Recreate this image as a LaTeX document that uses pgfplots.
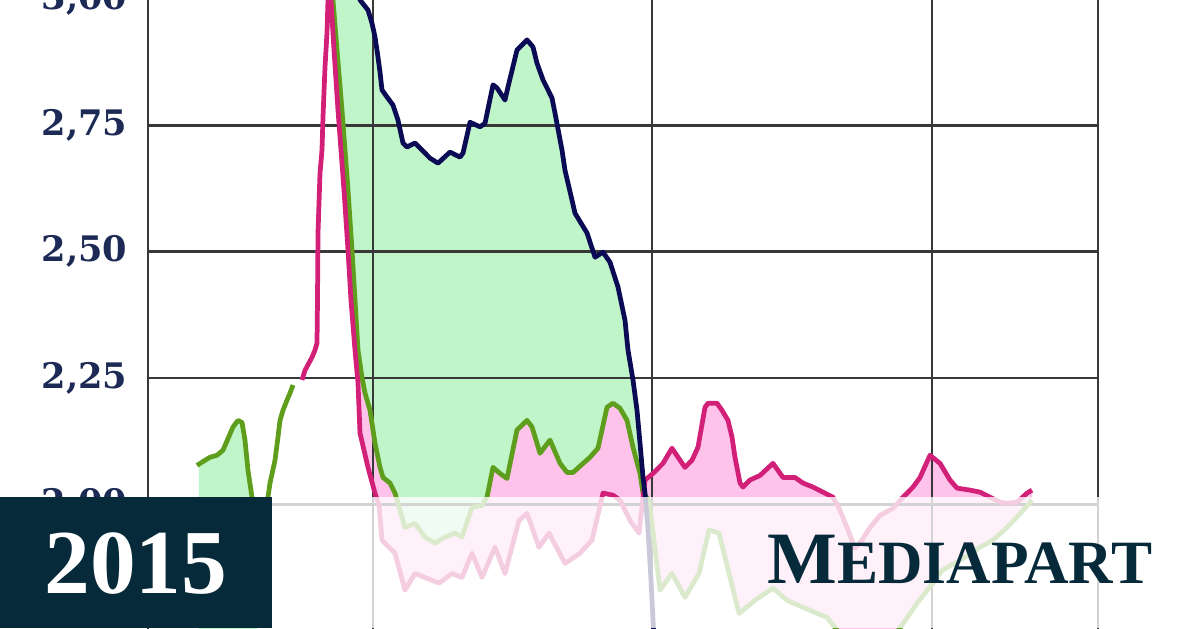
\documentclass[border=0pt]{standalone}
\usepackage{pgfplots}
\pgfplotsset{compat=1.18}
\usepackage{fontspec}
\setmainfont{DejaVu Serif}
\newfontfamily\yearfont{Liberation Serif}
\newfontfamily\logofont{Liberation Serif}
\definecolor{navyline}{HTML}{0B0B55}
\definecolor{greenline}{HTML}{5E9E1C}
\definecolor{magline}{HTML}{D21F78}
\definecolor{greenfill}{HTML}{BFF5C9}
\definecolor{pinkfill}{HTML}{FFC2EA}
\definecolor{gridc}{HTML}{383838}
\definecolor{labc}{HTML}{1C2A55}
\definecolor{bannerc}{HTML}{062A3A}
\begin{document}
\begin{tikzpicture}
\begin{axis}[
  set layers,
  x=0.01cm, y=5.05cm,
  xmin=148, xmax=1098, ymin=1.5, ymax=3.25,
  xtick={373,652,932}, xticklabels={},
  ytick={2,2.25,2.5,2.75,3},
  grid=major,
  major grid style={draw=gridc, line width=0.7pt},
  axis line style={draw=gridc, line width=0.7pt},
  major tick length=0pt,
  yticklabel style={font=\bfseries\fontsize{10}{12}\selectfont, text=labc, anchor=east, inner sep=0pt, xshift=-0.2cm,
    /pgf/number format/fixed, /pgf/number format/fixed zerofill, /pgf/number format/precision=2,
    /pgf/number format/use comma, /pgf/number format/assume math mode=true},
]
% ---- fills (background layer) ----
% green fill, left
\addplot[on layer=axis background, fill=greenfill, draw=none] coordinates {
(199,2.077) (205,2.087) (210,2.093) (217,2.097) (223,2.107) (233,2.153) (238,2.166) (242,2.162)
(245,2.127) (248,2.067) (252,2.014) (257,1.929) (257,1.6) (199,1.6)};
% green fill, between navy and green
\addplot[on layer=axis background, fill=greenfill, draw=none] coordinates {
(326,3.20) (340,3.12) (352,3.05) (360,2.998) (368,2.978) (372,2.952) (375,2.925) (378,2.885) (380,2.855)
(382,2.820) (387,2.806) (393,2.790) (398,2.760) (403,2.715) (407,2.707) (415,2.715) (422,2.701) (430,2.685)
(438,2.675) (450,2.697) (460,2.687) (463,2.695) (470,2.756) (480,2.747) (485,2.754) (493,2.830) (497,2.824)
(505,2.800) (508,2.826) (517,2.899) (527,2.919) (533,2.905) (537,2.873) (543,2.840) (552,2.804) (555,2.774)
(562,2.701) (565,2.661) (572,2.602) (575,2.576) (587,2.537) (595,2.489) (603,2.499) (610,2.479) (618,2.430)
(625,2.364) (628,2.305) (633,2.246) (637,2.186) (640,2.121) (643,2.053) (645,2.022)
(643,2.022) (640,2.061) (633,2.113) (627,2.166) (620,2.190) (613,2.200) (607,2.192) (598,2.111) (590,2.093)
(573,2.063) (567,2.063) (560,2.081) (550,2.127) (540,2.101) (532,2.153) (527,2.166) (517,2.147) (507,2.051)
(500,2.061) (493,2.073) (487,2.014) (482,1.998) (472,1.994) (462,1.935) (455,1.943) (445,1.935) (435,1.923)
(425,1.935) (415,1.962) (405,1.954) (395,2.022) (390,2.042) (383,2.053) (380,2.073) (375,2.121) (370,2.186)
(365,2.220) (362,2.251) (358,2.305) (355,2.404) (352,2.503) (348,2.622) (345,2.701) (342,2.780) (337,2.899)
(333,2.998) (330,3.03)};
% pink fill, between green and magenta (middle)
\addplot[on layer=axis background, fill=pinkfill, draw=none] coordinates {
(329,3.02) (331,2.998) (334,2.899) (338,2.780) (341,2.701) (344,2.622) (348,2.503) (351,2.404) (355,2.305)
(358,2.240) (360,2.141) (368,2.073) (375,2.022) (379,1.998) (382,1.929) (395,1.903) (405,1.830) (415,1.863)
(439,1.844) (452,1.863) (462,1.855) (472,1.903) (482,1.855) (495,1.915) (505,1.863) (519,1.968) (527,1.982)
(539,1.915) (549,1.943) (565,1.883) (580,1.903) (592,1.929) (603,2.022) (613,2.018) (620,2.008) (630,1.968)
(639,1.943) (643,2.022)
(640,2.061) (633,2.113) (627,2.166) (620,2.190) (613,2.200) (607,2.192) (598,2.111) (590,2.093)
(573,2.063) (567,2.063) (560,2.081) (550,2.127) (540,2.101) (532,2.153) (527,2.166) (517,2.147) (507,2.051)
(500,2.061) (493,2.073) (487,2.014) (482,1.998) (472,1.994) (462,1.935) (455,1.943) (445,1.935) (435,1.923)
(425,1.935) (415,1.962) (405,1.954) (395,2.022) (390,2.042) (383,2.053) (380,2.073) (375,2.121) (370,2.186)
(365,2.220) (362,2.251) (358,2.305) (355,2.404) (352,2.503) (348,2.622) (345,2.701) (342,2.780) (337,2.899)
(333,2.998) (330,3.03)};
% pink fill, right
\addplot[on layer=axis background, fill=pinkfill, draw=none] coordinates {
(643,2.022) (645,2.048) (653,2.061) (663,2.081) (672,2.111) (678,2.093) (685,2.073) (692,2.087) (698,2.113)
(705,2.192) (708,2.200) (717,2.200) (722,2.186) (728,2.166) (732,2.133) (735,2.093) (740,2.042) (743,2.034)
(750,2.048) (760,2.057) (773,2.081) (783,2.053) (795,2.053) (803,2.042) (813,2.034) (823,2.024) (833,2.014)
(840,1.988) (848,1.949) (855,1.913) (862,1.929) (870,1.954) (880,1.978) (893,1.992) (903,2.014) (913,2.034)
(920,2.053) (930,2.097) (940,2.081) (950,2.048) (957,2.032) (970,2.028) (980,2.024) (990,2.014) (1000,2.004)
(1007,2.002) (1017,2.004) (1027,2.022) (1032,2.028)
(1032,2.008) (1023,1.988) (1007,1.954) (993,1.929) (980,1.915) (960,1.889) (942,1.869) (933,1.844) (917,1.804)
(900,1.755) (890,1.731) (870,1.716) (845,1.731) (827,1.776) (803,1.796) (787,1.810) (773,1.834) (755,1.810)
(739,1.784) (719,1.943) (709,1.949) (699,1.863) (685,1.816) (672,1.863) (660,1.830) (652,1.962) (649,2.008)};
% ---- lines ----
\addplot[greenline, line width=1.35pt, line join=round] coordinates {
(197,2.077) (205,2.087) (210,2.093) (217,2.097) (223,2.107) (233,2.153) (238,2.166) (242,2.162) (245,2.127)
(248,2.067) (252,2.014) (257,1.929) (262,1.919) (266,1.968) (268,2.014) (270,2.042) (275,2.087) (278,2.133)
(280,2.166) (283,2.186) (287,2.206) (290,2.220) (293,2.236)};
\addplot[greenline, line width=1.35pt, line join=round] coordinates {
(330,3.03) (333,2.998) (337,2.899) (342,2.780) (345,2.701) (348,2.622) (352,2.503) (355,2.404) (358,2.305)
(362,2.251) (365,2.220) (370,2.186) (375,2.121) (380,2.073) (383,2.053) (390,2.042) (395,2.022) (405,1.954)
(415,1.962) (425,1.935) (435,1.923) (445,1.935) (455,1.943) (462,1.935) (472,1.994) (482,1.998) (487,2.014)
(493,2.073) (500,2.061) (507,2.051) (517,2.147) (527,2.166) (532,2.153) (540,2.101) (550,2.127) (560,2.081)
(567,2.063) (573,2.063) (590,2.093) (598,2.111) (607,2.192) (613,2.200) (620,2.190) (627,2.166) (633,2.113)
(640,2.061) (643,2.022) (649,2.008) (652,1.962) (660,1.830) (672,1.863) (685,1.816) (699,1.863) (709,1.949)
(719,1.943) (739,1.784) (755,1.810) (773,1.834) (787,1.810) (803,1.796) (827,1.776) (845,1.731) (870,1.716)
(890,1.731) (900,1.755) (917,1.804) (933,1.844) (942,1.869) (960,1.889) (980,1.915) (993,1.929) (1007,1.954)
(1023,1.988) (1032,2.008)};
\addplot[magline, line width=1.35pt, line join=round] coordinates {
(302,2.246) (305,2.265) (312,2.291) (315,2.305) (317,2.319) (317.5,2.404) (318,2.537) (320,2.655) (322,2.701)
(323,2.766) (325,2.865) (327,2.933) (328,2.998) (329,3.02) (331,2.998) (334,2.899) (338,2.780) (341,2.701)
(344,2.622) (348,2.503) (351,2.404) (355,2.305) (358,2.240) (360,2.141) (368,2.073) (375,2.022) (379,1.998)
(382,1.929) (395,1.903) (405,1.830) (415,1.863) (439,1.844) (452,1.863) (462,1.855) (472,1.903) (482,1.855)
(495,1.915) (505,1.863) (519,1.968) (527,1.982) (539,1.915) (549,1.943) (565,1.883) (580,1.903) (592,1.929)
(603,2.022) (613,2.018) (620,2.008) (630,1.968) (639,1.943) (645,2.048) (653,2.061) (663,2.081) (672,2.111)
(678,2.093) (685,2.073) (692,2.087) (698,2.113) (705,2.192) (708,2.200) (717,2.200) (722,2.186) (728,2.166)
(732,2.133) (735,2.093) (740,2.042) (743,2.034) (750,2.048) (760,2.057) (773,2.081) (783,2.053) (795,2.053)
(803,2.042) (813,2.034) (823,2.024) (833,2.014) (840,1.988) (848,1.949) (855,1.913) (862,1.929) (870,1.954)
(880,1.978) (893,1.992) (903,2.014) (913,2.034) (920,2.053) (930,2.097) (940,2.081) (950,2.048) (957,2.032)
(970,2.028) (980,2.024) (990,2.014) (1000,2.004) (1007,2.002) (1017,2.004) (1027,2.022) (1032,2.028)};
\addplot[navyline, line width=1.35pt, line join=round] coordinates {
(326,3.20) (340,3.12) (352,3.05) (360,2.998) (368,2.978) (372,2.952) (375,2.925) (378,2.885) (380,2.855)
(382,2.820) (387,2.806) (393,2.790) (398,2.760) (403,2.715) (407,2.707) (415,2.715) (422,2.701) (430,2.685)
(438,2.675) (450,2.697) (460,2.687) (463,2.695) (470,2.756) (480,2.747) (485,2.754) (493,2.830) (497,2.824)
(505,2.800) (508,2.826) (517,2.899) (527,2.919) (533,2.905) (537,2.873) (543,2.840) (552,2.804) (555,2.774)
(562,2.701) (565,2.661) (572,2.602) (575,2.576) (587,2.537) (595,2.489) (603,2.499) (610,2.479) (618,2.430)
(625,2.364) (628,2.305) (633,2.246) (637,2.186) (640,2.121) (643,2.053) (645,2.022) (648,1.949) (651,1.850)
(654,1.731)};
% reference points for the page and the banner
\coordinate (TL) at (axis cs:0,2.998);
\coordinate (BR) at (axis cs:1200,1.7544);
\coordinate (BT) at (axis cs:0,2.0139);
\coordinate (BOXR) at (axis cs:272,1.7544);
\coordinate (YEAR) at (axis cs:136,1.8237);
\coordinate (LOGO) at (axis cs:767,1.8442);
\end{axis}
\pgfresetboundingbox
\path[use as bounding box] (TL) rectangle (BR);
\fill[white, fill opacity=0.78] (BT) rectangle (BR);
\fill[bannerc] (BT) rectangle (BOXR);
\node[anchor=base, inner sep=0pt, text=white] at (YEAR) {\yearfont\bfseries\fontsize{26}{30}\selectfont 2015};
\node[anchor=base west, inner sep=0pt, text=bannerc] at (LOGO) {\logofont\bfseries\fontsize{21}{24}\selectfont M\fontsize{17.5}{20}\selectfont EDIAPART};
\end{tikzpicture}
\end{document}
